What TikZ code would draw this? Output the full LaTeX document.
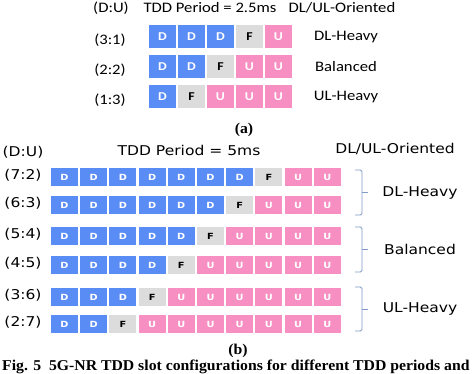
\documentclass[tikz,border=0pt]{standalone}
\usepackage{fontspec}
\setmainfont[FakeStretch=1.05]{Liberation Serif}
\newfontfamily\calfont[FakeStretch=1.15]{Carlito}
\newfontfamily\dvfont[FakeStretch=1.15]{DejaVu Sans}
\definecolor{colD}{rgb}{.353,.549,.961}
\definecolor{colU}{rgb}{.969,.561,.765}
\definecolor{colF}{rgb}{.863,.863,.863}
\definecolor{colBr}{rgb}{.50,.60,.78}
\tikzstyle{slot}=[inner sep=0pt, minimum width=27pt]
\tikzstyle{aslot}=[slot, minimum height=23pt, font=\calfont\bfseries\fontsize{12}{12}\selectfont]
\tikzstyle{bslot}=[slot, minimum height=18pt, font=\dvfont\bfseries\fontsize{8.5}{8.5}\selectfont]
\tikzstyle{dl}=[fill=colD, text=white]
\tikzstyle{fl}=[fill=colF, text=black]
\tikzstyle{ul}=[fill=colU, text=white]
\tikzstyle{alabel}=[font=\calfont\fontsize{14.5}{15}\selectfont]
\tikzstyle{blabel}=[font=\dvfont\fontsize{13.5}{14}\selectfont]
\tikzstyle{figcap}=[font=\bfseries\fontsize{15}{15}\selectfont]
\tikzstyle{brace}=[colBr, line width=0.8pt, rounded corners=1.5pt]

\begin{document}
\begin{tikzpicture}[x=1pt,y=-1pt]
		\useasboundingbox (0,0) rectangle (474,374);
		% (a) 2.5 ms
		\node[alabel] (ahdu) at (111,8) {(D:U)};
		\node[alabel] (ahper) at (210,8) {TDD Period = 2.5ms};
		\node[alabel] (ahor) at (342,8) {DL/UL-Oriented};
		\foreach \r/\yy/\nd/\rat/\ori in {1/37/3/3:1/DL-Heavy,2/67/2/2:2/Balanced,3/97/1/1:3/UL-Heavy}{
			\node[alabel] (ar\r) at (110,\yy+3) {(\rat)};
			\node[alabel] (ao\r) at (346,\yy) {\ori};
			\foreach \i in {1,...,5}{
				\pgfmathsetmacro\xx{162.5+(\i-1)*29}
				\ifnum\i>\nd
					\ifnum\i=\numexpr\nd+1\relax
						\node[aslot,fl] (a\r-\i) at (\xx,\yy) {F};
					\else
						\node[aslot,ul] (a\r-\i) at (\xx,\yy) {U};
					\fi
				\else
					\node[aslot,dl] (a\r-\i) at (\xx,\yy) {D};
				\fi
			}
		}
		\node[figcap] (acap) at (244,130) {(a)};
		% (b) 5 ms
		\node[blabel] (bhdu) at (23,152) {(D:U)};
		\node[blabel] (bhper) at (189,150) {TDD Period = 5ms};
		\node[blabel] (bhor) at (395,149) {DL/UL-Oriented};
		\foreach \r/\yy/\nd/\rat in {1/177/7/7:2,2/205/6/6:3,3/236/5/5:4,4/265/4/4:5,5/297/3/3:6,6/324/2/2:7}{
			\node[blabel] (br\r) at (23,\yy-2) {(\rat)};
			\foreach \i in {1,...,10}{
				\pgfmathsetmacro\xx{64.5+(\i-1)*29.2}
				\ifnum\i>\nd
					\ifnum\i=\numexpr\nd+1\relax
						\node[bslot,fl] (b\r-\i) at (\xx,\yy) {F};
					\else
						\node[bslot,ul] (b\r-\i) at (\xx,\yy) {U};
					\fi
				\else
					\node[bslot,dl] (b\r-\i) at (\xx,\yy) {D};
				\fi
			}
		}
		% braces
		\foreach \g/\ya/\yb/\ori in {1/170/215/DL-Heavy,2/227/272/Balanced,3/287/331/UL-Heavy}{
			\coordinate (bt\g) at (355,\ya);
			\coordinate (bb\g) at (355,\yb);
			\coordinate (bm\g) at (362,{(\ya+\yb)/2});
			\coordinate (bp\g) at (368,{(\ya+\yb)/2});
			\draw[brace] (bt\g) -| (bm\g) |- (bb\g);
			\draw[brace] (bm\g) -- (bp\g);
			\node[blabel] (bo\g) at (420,{(\ya+\yb)/2}) {\ori};
		}
		\node[figcap] (bcap) at (238,351) {(b)};
		\node[figcap, anchor=base west, inner sep=0pt] (fig) at (2,370) {Fig. 5\ \ 5G-NR TDD slot configurations for different TDD periods and};
	\end{tikzpicture}
\end{document}
